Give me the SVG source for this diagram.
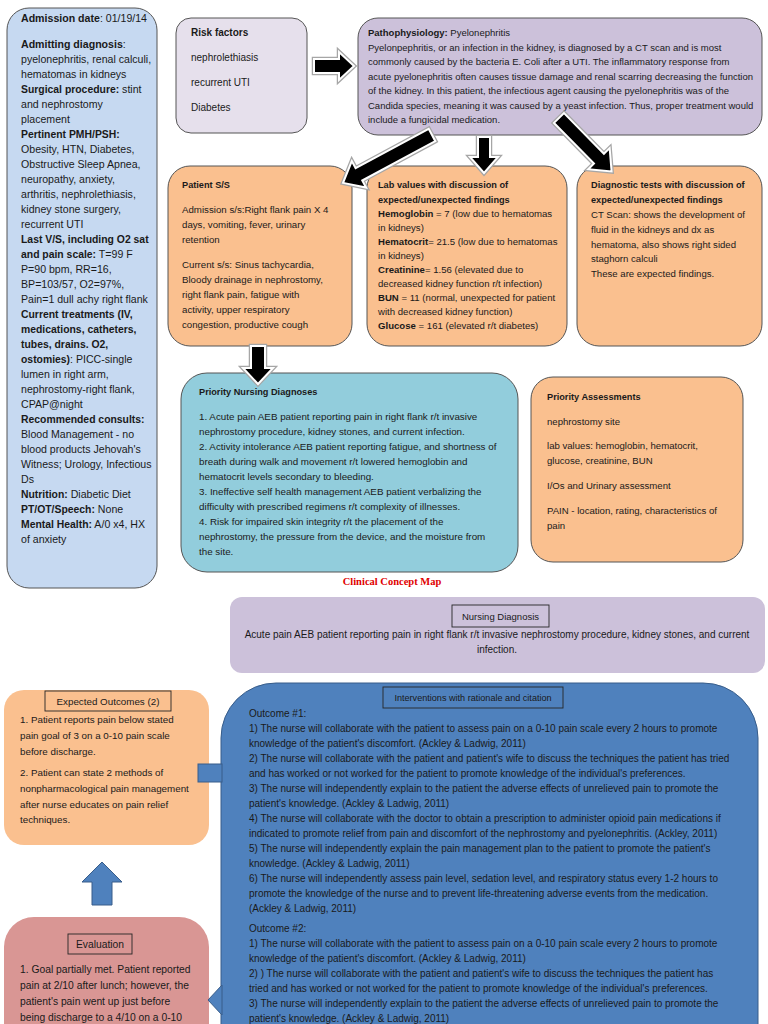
<svg xmlns="http://www.w3.org/2000/svg" width="768" height="1024" viewBox="0 0 768 1024">
<style>
text{font-family:"Liberation Sans",Arial,sans-serif;fill:#1a1a1a}
.b{font-weight:bold}
.lp{font-size:10.6px}
.lpb{font-size:10.4px;font-weight:bold}
.rk{font-size:10px}
.pp{font-size:9.5px}
.ss{font-size:9.7px}
.hd{font-size:9.2px}
.lab{font-size:9.6px}
.dg{font-size:9.6px}
.pn{font-size:9.8px}
.pa{font-size:9.6px}
.nd{font-size:10px}
.ndl{font-size:9.5px}
.eo{font-size:9.8px}
.ev{font-size:10.3px}
.iv{font-size:10px}
.ivl{font-size:9.1px}
.box{stroke:#555555;stroke-width:1}
.peach{fill:#fac08f}
.barrow{fill:#000000;stroke:#ffffff;stroke-width:2}
.bshadow{fill:none;stroke:#a6a6a6;stroke-width:4.5}
.blue{fill:#4f81bd;stroke:#385d8a;stroke-width:1}
.lbl{fill:none;stroke:#262626;stroke-width:0.9}
</style>
<rect width="768" height="1024" fill="#ffffff"/>

<g id="patient-info">
  <rect class="box" x="7" y="8" width="150" height="580" rx="22" fill="#c6d9f1"/>
  <text class="lp" x="21" y="22"><tspan class="b">Admission date</tspan>: 01/19/14</text>
  <text class="lp" x="21" y="48"><tspan class="b">Admitting diagnosis</tspan>:</text>
  <text class="lp" x="21" y="63">pyelonephritis, renal calculi,</text>
  <text class="lp" x="21" y="78">hematomas in kidneys</text>
  <text class="lp" x="21" y="93"><tspan class="lpb">Surgical procedure:</tspan> stint</text>
  <text class="lp" x="21" y="108">and nephrostomy</text>
  <text class="lp" x="21" y="123">placement</text>
  <text class="lpb" x="21" y="138">Pertinent PMH/PSH:</text>
  <text class="lp" x="21" y="153">Obesity, HTN, Diabetes,</text>
  <text class="lp" x="21" y="168">Obstructive Sleep Apnea,</text>
  <text class="lp" x="21" y="183">neuropathy, anxiety,</text>
  <text class="lp" x="21" y="198">arthritis, nephrolethiasis,</text>
  <text class="lp" x="21" y="213">kidney stone surgery,</text>
  <text class="lp" x="21" y="228">recurrent UTI</text>
  <text class="lpb" x="21" y="243">Last V/S, including O2 sat</text>
  <text class="lp" x="21" y="258"><tspan class="lpb">and pain scale:</tspan> T=99 F</text>
  <text class="lp" x="21" y="273">P=90 bpm, RR=16,</text>
  <text class="lp" x="21" y="288">BP=103/57, O2=97%,</text>
  <text class="lp" x="21" y="303">Pain=1 dull achy right flank</text>
  <text class="lpb" x="21" y="318">Current treatments (IV,</text>
  <text class="lpb" x="21" y="333">medications, catheters,</text>
  <text class="lpb" x="21" y="348">tubes, drains. O2,</text>
  <text class="lp" x="21" y="363"><tspan class="lpb">ostomies)</tspan>: PICC-single</text>
  <text class="lp" x="21" y="378">lumen in right arm,</text>
  <text class="lp" x="21" y="393">nephrostomy-right flank,</text>
  <text class="lp" x="21" y="408">CPAP@night</text>
  <text class="lpb" x="21" y="423">Recommended consults:</text>
  <text class="lp" x="21" y="438">Blood Management -  no</text>
  <text class="lp" x="21" y="453">blood products Jehovah's</text>
  <text class="lp" x="21" y="468">Witness; Urology, Infectious</text>
  <text class="lp" x="21" y="483">Ds</text>
  <text class="lp" x="21" y="498"><tspan class="lpb">Nutrition:</tspan> Diabetic Diet</text>
  <text class="lp" x="21" y="513"><tspan class="lpb">PT/OT/Speech:</tspan> None</text>
  <text class="lp" x="21" y="528"><tspan class="lpb">Mental Health:</tspan> A/0 x4, HX</text>
  <text class="lp" x="21" y="543">of anxiety</text>
</g>

<g id="risk-factors">
  <rect class="box" x="176" y="18" width="131" height="115" rx="15" fill="#e6e0ec"/>
  <text class="rk b" x="191" y="36">Risk factors</text>
  <text class="rk" x="191" y="61">nephrolethiasis</text>
  <text class="rk" x="191" y="86">recurrent UTI</text>
  <text class="rk" x="191" y="111">Diabetes</text>
</g>

<g id="pathophysiology">
  <rect class="box" x="358" y="18" width="404" height="117" rx="20" fill="#ccc1da"/>
  <text class="pp" x="368" y="36"><tspan class="b">Pathophysiology:</tspan> Pyelonephritis</text>
  <text class="pp" x="368" y="50.5">Pyelonpephritis, or an infection in the kidney, is diagnosed by a CT scan and is most</text>
  <text class="pp" x="368" y="65">commonly caused by the bacteria E. Coli after a UTI. The inflammatory response from</text>
  <text class="pp" x="368" y="79.5">acute pyelonephritis often causes tissue damage and renal scarring decreasing the function</text>
  <text class="pp" x="368" y="94">of the kidney. In this patient, the infectious agent causing the pyelonephritis was of the</text>
  <text class="pp" x="368" y="108.5">Candida species, meaning it was caused by a yeast infection. Thus, proper treatment would</text>
  <text class="pp" x="368" y="123">include a fungicidal medication.</text>
</g>

<g id="patient-ss">
  <rect class="box peach" x="168" y="166" width="184" height="180" rx="22"/>
  <text class="hd b" x="182" y="188">Patient S/S</text>
  <text class="ss" x="182" y="213">Admission s/s:Right flank pain X 4</text>
  <text class="ss" x="182" y="228">days, vomiting, fever, urinary</text>
  <text class="ss" x="182" y="243">retention</text>
  <text class="ss" x="182" y="268">Current s/s: Sinus tachycardia,</text>
  <text class="ss" x="182" y="283">Bloody drainage in nephrostomy,</text>
  <text class="ss" x="182" y="298">right flank pain, fatigue with</text>
  <text class="ss" x="182" y="313">activity, upper respiratory</text>
  <text class="ss" x="182" y="328">congestion, productive cough</text>
</g>

<g id="lab-values">
  <rect class="box peach" x="367" y="166" width="200" height="180" rx="22"/>
  <text class="hd b" x="378" y="188">Lab values with discussion of</text>
  <text class="hd b" x="378" y="203">expected/unexpected findings</text>
  <text class="lab" x="378" y="217"><tspan class="b">Hemoglobin</tspan> = 7 (low due to hematomas</text>
  <text class="lab" x="378" y="231">in kidneys)</text>
  <text class="lab" x="378" y="245"><tspan class="b">Hematocrit</tspan>= 21.5 (low due to hematomas</text>
  <text class="lab" x="378" y="259">in kidneys)</text>
  <text class="lab" x="378" y="273"><tspan class="b">Creatinine</tspan>= 1.56 (elevated due to</text>
  <text class="lab" x="378" y="287">decreased kidney function r/t infection)</text>
  <text class="lab" x="378" y="301"><tspan class="b">BUN</tspan> = 11 (normal, unexpected for patient</text>
  <text class="lab" x="378" y="315">with decreased kidney function)</text>
  <text class="lab" x="378" y="329"><tspan class="b">Glucose</tspan> = 161 (elevated r/t diabetes)</text>
</g>

<g id="diagnostic-tests">
  <rect class="box peach" x="577" y="166" width="185" height="180" rx="22"/>
  <text class="hd b" x="591" y="188">Diagnostic tests with discussion of</text>
  <text class="hd b" x="591" y="203">expected/unexpected findings</text>
  <text class="dg" x="591" y="218">CT Scan: shows the development of</text>
  <text class="dg" x="591" y="233">fluid in the kidneys and dx as</text>
  <text class="dg" x="591" y="248">hematoma, also shows right sided</text>
  <text class="dg" x="591" y="262">staghorn calculi</text>
  <text class="dg" x="591" y="277">These are expected findings.</text>
</g>

<g id="priority-nursing-diagnoses">
  <rect class="box" x="181" y="373" width="337" height="199" rx="26" fill="#92cddc"/>
  <text class="hd b" x="199" y="395">Priority Nursing Diagnoses</text>
  <text class="pn" x="199" y="420">1. Acute pain AEB patient reporting pain in right flank r/t invasive</text>
  <text class="pn" x="199" y="435">nephrostomy procedure, kidney stones, and current infection.</text>
  <text class="pn" x="199" y="450">2. Activity intolerance AEB patient reporting fatigue, and shortness of</text>
  <text class="pn" x="199" y="465">breath during walk and movement r/t lowered hemoglobin and</text>
  <text class="pn" x="199" y="480">hematocrit levels secondary to bleeding.</text>
  <text class="pn" x="199" y="495">3. Ineffective self health management AEB patient verbalizing the</text>
  <text class="pn" x="199" y="510">difficulty with prescribed regimens r/t complexity of illnesses.</text>
  <text class="pn" x="199" y="525">4. Risk for impaired skin integrity r/t the placement of the</text>
  <text class="pn" x="199" y="540">nephrostomy, the pressure from the device, and the moisture from</text>
  <text class="pn" x="199" y="555">the site.</text>
</g>

<g id="priority-assessments">
  <rect class="box peach" x="531" y="377" width="212" height="185" rx="22"/>
  <text class="hd b" x="547" y="400">Priority Assessments</text>
  <text class="pa" x="547" y="425">nephrostomy site</text>
  <text class="pa" x="547" y="449">lab values: hemoglobin, hematocrit,</text>
  <text class="pa" x="547" y="464">glucose, creatinine, BUN</text>
  <text class="pa" x="547" y="489">I/Os and Urinary assessment</text>
  <text class="pa" x="547" y="514">PAIN - location, rating, characteristics of</text>
  <text class="pa" x="547" y="529">pain</text>
</g>

<g id="title">
  <text x="392" y="585" text-anchor="middle" style="font-family:'Liberation Serif','Times New Roman',serif;font-weight:bold;font-size:10.5px;fill:#e00000">Clinical Concept Map</text>
</g>

<g id="nursing-diagnosis">
  <rect x="230" y="597" width="535" height="76" rx="12" fill="#ccc1da"/>
  <rect class="lbl" x="452" y="605" width="97" height="22"/>
  <text class="ndl" x="500.5" y="620" text-anchor="middle">Nursing Diagnosis</text>
  <text class="nd" x="497" y="638" text-anchor="middle">Acute pain AEB patient reporting pain in right flank r/t invasive nephrostomy procedure, kidney stones, and current</text>
  <text class="nd" x="497" y="653" text-anchor="middle">infection.</text>
</g>

<g id="expected-outcomes">
  <rect x="4" y="690" width="205" height="155" rx="20" fill="#fac08f"/>
  <rect class="lbl" x="45" y="691" width="126" height="20"/>
  <text class="eo" x="108" y="705" text-anchor="middle">Expected Outcomes (2)</text>
  <text class="eo" x="20" y="723">1. Patient reports pain below stated</text>
  <text class="eo" x="20" y="739">pain goal of 3 on a 0-10 pain scale</text>
  <text class="eo" x="20" y="755">before discharge.</text>
  <text class="eo" x="20" y="776">2.  Patient can state 2 methods of</text>
  <text class="eo" x="20" y="792">nonpharmacological pain management</text>
  <text class="eo" x="20" y="808">after nurse educates on pain relief</text>
  <text class="eo" x="20" y="823">techniques.</text>
</g>

<g id="interventions">
  <rect x="221" y="683" width="537" height="420" rx="55" fill="#4f81bd" stroke="#385d8a" stroke-width="1"/>
  <rect class="lbl" x="383" y="687" width="180" height="21"/>
  <text class="ivl" x="473" y="701" text-anchor="middle">Interventions with rationale and citation</text>
  <text class="iv" x="249" y="717">Outcome #1:</text>
  <text class="iv" x="249" y="732">1) The nurse will collaborate with the patient to assess pain on a 0-10 pain scale every 2 hours to promote</text>
  <text class="iv" x="249" y="747">knowledge of the patient's discomfort. (Ackley &amp; Ladwig, 2011)</text>
  <text class="iv" x="249" y="762">2) The nurse will collaborate with the patient and patient's wife to discuss the techniques the patient has tried</text>
  <text class="iv" x="249" y="777">and has worked or not worked for the patient to promote knowledge of the individual's preferences.</text>
  <text class="iv" x="249" y="792">3) The nurse will independently explain to the patient the adverse effects of unrelieved pain  to promote the</text>
  <text class="iv" x="249" y="807">patient's knowledge. (Ackley &amp; Ladwig, 2011)</text>
  <text class="iv" x="249" y="822">4) The nurse will collaborate with the doctor to obtain a prescription to administer opioid pain medications if</text>
  <text class="iv" x="249" y="837">indicated to promote relief from pain and discomfort  of the nephrostomy and pyelonephritis. (Ackley, 2011)</text>
  <text class="iv" x="249" y="852">5) The nurse will independently explain the pain management plan to the patient to promote the patient's</text>
  <text class="iv" x="249" y="867">knowledge. (Ackley &amp; Ladwig, 2011)</text>
  <text class="iv" x="249" y="882">6)  The nurse will independently assess pain level, sedation level, and respiratory status every 1-2 hours to</text>
  <text class="iv" x="249" y="897">promote the knowledge of the nurse and to prevent life-threatening adverse events from the medication.</text>
  <text class="iv" x="249" y="912">(Ackley &amp; Ladwig, 2011)</text>
  <text class="iv" x="249" y="932">Outcome #2:</text>
  <text class="iv" x="249" y="947">1) The nurse will collaborate with the patient to assess pain on a 0-10 pain scale every 2 hours to promote</text>
  <text class="iv" x="249" y="962">knowledge of the patient's discomfort. (Ackley &amp; Ladwig, 2011)</text>
  <text class="iv" x="249" y="977">2) ) The nurse will collaborate with the patient and patient's wife to discuss the techniques the patient has</text>
  <text class="iv" x="249" y="992">tried and has worked or not worked for the patient to promote knowledge of the individual's preferences.</text>
  <text class="iv" x="249" y="1007">3) The nurse will independently explain to the patient the adverse effects of unrelieved pain  to promote the</text>
  <text class="iv" x="249" y="1022">patient's knowledge. (Ackley &amp; Ladwig, 2011)</text>
</g>

<g id="evaluation">
  <rect x="4" y="917" width="205" height="150" rx="30" fill="#d99694"/>
  <rect class="lbl" x="68" y="934" width="64" height="20"/>
  <text class="ev" x="100" y="948" text-anchor="middle">Evaluation</text>
  <text class="ev" x="20" y="973">1. Goal partially met. Patient reported</text>
  <text class="ev" x="20" y="989">pain at 2/10 after lunch; however, the</text>
  <text class="ev" x="20" y="1005">patient's pain went up just before</text>
  <text class="ev" x="20" y="1021">being discharge to a 4/10 on a 0-10</text>
</g>

<g id="connectors">
  <g transform="translate(314,66)">
    <polygon class="bshadow" points="0,-7 25,-7 25,-14 40,0 25,14 25,7 0,7"/>
    <polygon class="barrow" points="0,-7 25,-7 25,-14 40,0 25,14 25,7 0,7"/>
  </g>
  <g transform="translate(432,135) rotate(151.7)">
    <polygon class="bshadow" points="0,-7 83,-7 83,-15 101,0 83,15 83,7 0,7"/>
    <polygon class="barrow" points="0,-7 83,-7 83,-15 101,0 83,15 83,7 0,7"/>
  </g>
  <g transform="translate(484,137) rotate(90)">
    <polygon class="bshadow" points="0,-6 20,-6 20,-14 36,0 20,14 20,6 0,6"/>
    <polygon class="barrow" points="0,-6 20,-6 20,-14 36,0 20,14 20,6 0,6"/>
  </g>
  <g transform="translate(559,118) rotate(45.5)">
    <polygon class="bshadow" points="0,-7 57,-7 57,-15 75,0 57,15 57,7 0,7"/>
    <polygon class="barrow" points="0,-7 57,-7 57,-15 75,0 57,15 57,7 0,7"/>
  </g>
  <g transform="translate(258,346) rotate(90)">
    <polygon class="bshadow" points="0,-7 22,-7 22,-15 38,0 22,15 22,7 0,7"/>
    <polygon class="barrow" points="0,-7 22,-7 22,-15 38,0 22,15 22,7 0,7"/>
  </g>
  <rect class="blue" x="198" y="764" width="24" height="18"/>
  <polygon class="blue" points="208,1000 222,985 222,1015"/>
  <polygon class="blue" points="102,862 122,882 112,882 112,905 92,905 92,882 82,882"/>
</g>
</svg>
